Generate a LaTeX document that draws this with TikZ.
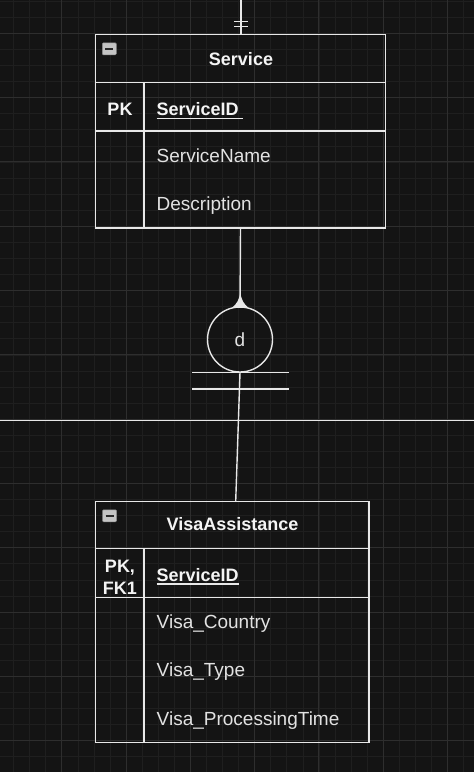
\documentclass[tikz,border=0pt]{standalone}
\usepackage{fontspec}
\setmainfont{Liberation Sans}
\begin{document}
\begin{tikzpicture}[x=1pt,y=-1pt,
  ln/.style={draw=lncol, line width=1.4pt},
  boxnode/.style={ln, rectangle, inner sep=0pt, outer sep=0pt, anchor=north west},
  hdr/.style={font=\fontsize{18}{20}\selectfont\bfseries, text=txtw, inner sep=0pt, anchor=base},
  keytxt/.style={font=\fontsize{18}{20}\selectfont\bfseries, text=txtw, inner sep=0pt, anchor=base},
  attr/.style={font=\fontsize{19}{21}\selectfont, text=txtg, inner sep=0pt, anchor=base west},
  keyattr/.style={font=\fontsize{18}{20}\selectfont\bfseries, text=txtw, inner sep=0pt, anchor=base west},
  minorln/.style={draw=gridminor, line width=0.6pt},
  majorln/.style={draw=gridmajor, line width=0.9pt},
  iconbox/.style={rectangle, fill=icongrey, draw=iconedge, line width=0.5pt, rounded corners=1pt, minimum width=14pt, minimum height=12pt, inner sep=0pt}
]
\definecolor{bgcol}{HTML}{141414}
\definecolor{gridminor}{HTML}{1F1F1F}
\definecolor{gridmajor}{HTML}{2E2E2E}
\definecolor{lncol}{HTML}{E8E8E8}
\definecolor{txtw}{HTML}{F4F4F4}
\definecolor{txtg}{HTML}{E2E2E2}
\definecolor{icongrey}{HTML}{C4C4C4}
\definecolor{iconedge}{HTML}{8A8A8A}
\definecolor{minuscol}{HTML}{2A2A2A}

\useasboundingbox (0,0) rectangle (474,772);
\fill[bgcol] (0,0) rectangle (474,772);

% grid
\foreach \i in {0,...,29} {\pgfmathsetmacro\gx{13.5+16.075*\i}\draw[minorln] (\gx,0) -- (\gx,772);}
\foreach \i in {0,...,48} {\pgfmathsetmacro\gy{1.15+16.075*\i}\draw[minorln] (0,\gy) -- (474,\gy);}
\foreach \i in {0,...,7} {\pgfmathsetmacro\gx{-2.6+64.3*\i}\draw[majorln] (\gx,0) -- (\gx,772);}
\foreach \i in {0,...,11} {\pgfmathsetmacro\gy{33.3+64.3*\i}\draw[majorln] (0,\gy) -- (474,\gy);}

% ---------- Service entity ----------
\node[boxnode, minimum width=290pt, minimum height=193.7pt] (svc) at (95.7,34.3) {};
\draw[ln] (95.7,82.7) -- (385.7,82.7);
\draw[ln] (95.7,131) -- (385.7,131);
\draw[ln] (144,82.7) -- (144,228);
\node[iconbox] (svcicon) at (109.3,48.8) {};
\draw[minuscol, line width=1.6pt] ([xshift=-4pt]svcicon.center) -- ([xshift=4pt]svcicon.center);
\node[hdr] (svctitle) at (241,65) {Service};
\node[keytxt] (svcpk) at (120,115.1) {PK};
\node[keyattr] (svcid) at (156.5,115.1) {ServiceID};
\draw[lncol, line width=1.5pt] ([yshift=-3.2pt]svcid.base west) -- ([yshift=-3.2pt,xshift=4pt]svcid.base east);
\node[attr] (svcname) at (156.5,162.4) {ServiceName};
\node[attr] (svcdesc) at (156.5,210.4) {Description};

% top connector
\coordinate (topend) at (241,0);
\draw[ln] (topend) -- (241,34.3);
\draw[ln] (234,21.7) -- (248,21.7);
\draw[ln] (234,26.7) -- (248,26.7);

% ---------- disjoint circle ----------
\node[ln, circle, minimum size=65pt, inner sep=0pt, font=\fontsize{19}{21}\selectfont, text=txtg] (dis) at (240,339.5) {d};
\draw[ln] (240.5,228) -- (dis.north);
\fill[lncol] (240.3,291.5) .. controls (241,300) and (244,304) .. (248.5,307.8)
  -- (232,307.8) .. controls (236.5,304) and (239.5,300) .. (240.3,291.5) -- cycle;

% bars under the circle
\draw[ln] (192.3,372.7) -- (289,372.7);
\draw[ln] (192.3,389) -- (289,389);

% long horizontal line
\coordinate (hlineL) at (0,420.7);
\coordinate (hlineR) at (474,420.7);
\draw[ln] (hlineL) -- (hlineR);

% ---------- VisaAssistance entity ----------
\node[boxnode, minimum width=273.3pt, minimum height=241pt] (visa) at (95.7,501.7) {};
\draw[ln] (95.7,548.3) -- (369,548.3);
\draw[ln] (95.7,597.3) -- (369,597.3);
\draw[ln] (144,548.3) -- (144,742.7);
\node[iconbox] (visaicon) at (109.5,515.8) {};
\draw[minuscol, line width=1.6pt] ([xshift=-4pt]visaicon.center) -- ([xshift=4pt]visaicon.center);
\node[hdr] (visatitle) at (232.5,530.7) {VisaAssistance};
\node[keytxt] (visapk) at (120,572.3) {PK,};
\node[keytxt] (visafk) at (120,594.3) {FK1};
\node[keyattr] (visaid) at (156.5,581) {ServiceID};
\draw[lncol, line width=1.5pt] ([yshift=-3.2pt]visaid.base west) -- ([yshift=-3.2pt]visaid.base east);
\node[attr] (vcountry) at (156.5,628.3) {Visa\_Country};
\node[attr] (vtype) at (156.5,676.7) {Visa\_Type};
\node[attr] (vtime) at (156.5,725) {Visa\_ProcessingTime};

% connector circle -> VisaAssistance
\coordinate (visain) at (235.7,501.7);
\draw[ln] (dis.south) -- (visain);
\end{tikzpicture}
\end{document}
